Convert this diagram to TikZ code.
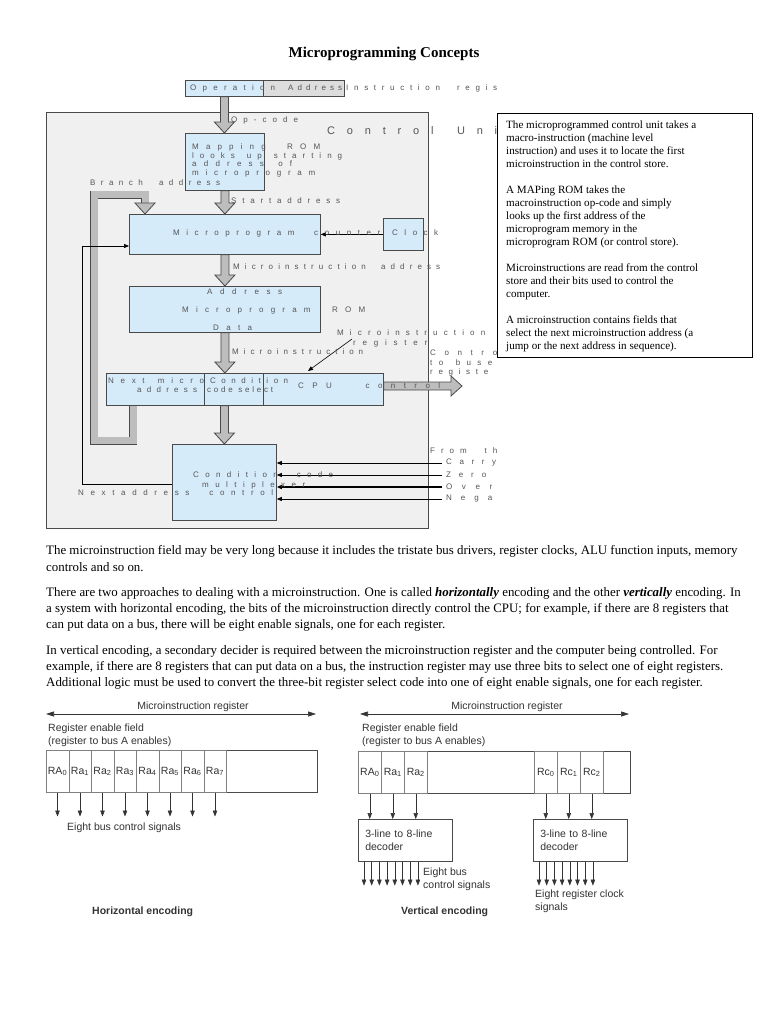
\documentclass[tikz,border=0pt]{standalone}
\usepackage{fontspec}
\setmainfont{Liberation Serif}
\setsansfont{Liberation Sans}
\usetikzlibrary{arrows.meta, positioning, calc}

\definecolor{blockblue}{HTML}{D6EBFA}
\definecolor{cugray}{HTML}{F0F0F0}
\definecolor{pipegray}{HTML}{BDBDBD}
\definecolor{addrgray}{HTML}{DDDDDD}
\definecolor{edgegray}{HTML}{4A4A4A}
\definecolor{labelgray}{HTML}{555555}
\definecolor{diagtext}{HTML}{333333}

\newcommand{\spr}[2]{\makebox[#1pt][s]{#2}}

% block arrows (outlined)
\newcommand{\fatdown}[2]{%
  \draw[fat] let \p1=(#1), \p2=(#2) in
    (\x1-4pt,\y1) -- (\x1-4pt,\y2+11pt) -- (\x1-10pt,\y2+11pt) -- (\x1,\y2)
    -- (\x1+10pt,\y2+11pt) -- (\x1+4pt,\y2+11pt) -- (\x1+4pt,\y1) -- cycle;}
\newcommand{\fatright}[2]{%
  \draw[fat] let \p1=(#1), \p2=(#2) in
    (\x1,\y1+4pt) -- (\x2-11pt,\y1+4pt) -- (\x2-11pt,\y1+10pt) -- (\x2,\y1)
    -- (\x2-11pt,\y1-10pt) -- (\x2-11pt,\y1-4pt) -- (\x1,\y1-4pt) -- cycle;}

\tikzset{
  fat/.style={draw=edgegray, fill=pipegray, line width=0.8pt},
  fatpipe/.style={draw=edgegray, line width=0.8pt, double=pipegray, double distance=7pt},
  block/.style={draw=edgegray, fill=blockblue, line width=0.8pt, inner sep=0, anchor=north west},
  lbl/.style={font=\sffamily\fontsize{8}{8}\selectfont, text=labelgray, inner sep=0, anchor=west},
  wire/.style={draw=black, line width=0.6pt, -{Triangle[width=4pt,length=5pt]}},
  body/.style={font=\fontsize{12.9}{16}\selectfont, inner sep=0, anchor=west},
  sans/.style={font=\sffamily\fontsize{10.5}{13}\selectfont, text=diagtext, inner sep=0},
  regbox/.style={draw=edgegray, line width=0.6pt, inner sep=0, anchor=north west},
  cell/.style={sans, draw=gray, line width=0.5pt, minimum width=22.5, minimum height=42, inner sep=0, anchor=north west},
  sig/.style={draw=diagtext, line width=0.5pt, -{Triangle[width=4.5pt,length=6pt]}},
  dbl/.style={draw=diagtext, line width=0.6pt, {Triangle[width=5pt,length=8pt]}-{Triangle[width=5pt,length=8pt]}}
}

\begin{document}
\begin{tikzpicture}[x=1pt,y=-1pt]
\useasboundingbox (0,0) rectangle (768,1024);
\fill[white] (0,0) rectangle (768,1024);

\node[font=\bfseries\fontsize{15}{15}\selectfont] (title) at (384,54) {Microprogramming Concepts};

% control unit
\node[draw=edgegray, fill=cugray, line width=0.9pt, minimum width=382, minimum height=416, inner sep=0, anchor=north west] (cu) at (46,112) {};

% instruction register
\node[block, minimum width=78, minimum height=16] (opf) at (185,80) {};
\node[block, fill=addrgray, minimum width=81, minimum height=16] (adf) at (263,80) {};

% blocks
\node[block, minimum width=79, minimum height=57] (map) at (185,133) {};
\node[block, minimum width=191, minimum height=40] (pc) at (129,214) {};
\node[block, minimum width=40, minimum height=32] (clk) at (383,218) {};
\node[block, minimum width=191, minimum height=46] (rom) at (129,286) {};
\node[block, minimum width=98, minimum height=32] (mir1) at (106,373) {};
\node[block, minimum width=59, minimum height=32] (mir2) at (204,373) {};
\node[block, minimum width=120, minimum height=32] (mir3) at (263,373) {};
\node[block, minimum width=104, minimum height=76] (mux) at (172,444) {};

% branch address loop
\draw[fatpipe] ([xshift=27]mir1.south west) -- ++(0,35) -| (94,195) -| (145,204);

% block arrows
\fatdown{opf.south}{map.north}
\fatdown{map.south}{pc.north}
\fatdown{pc.south}{rom.north}
\fatdown{rom.south}{rom.south |- mir2.north}
\fatdown{mir2.south -| mux.north}{mux.north}
\coordinate (ctrlout) at (462,386);
\fatright{mir3.east |- ctrlout}{ctrlout}
\coordinate (brtip) at (145,214);
\draw[fat] (brtip) -- ++(-10,-11) -- ++(20,0) -- cycle;

% thin wires
\draw[wire] (clk.west) -- (pc.east);
\coordinate (fbk) at (82,484);
\coordinate (fbtop) at (82,246);
\draw[wire] (mux.west |- fbk) -- (fbk) -- (fbtop) -- (pc.west |- fbtop);
\coordinate (mirlbl) at (352,339);
\coordinate (mirpt) at (308,371);
\draw[wire] (mirlbl) -- (mirpt);
\coordinate (carry) at (442,463);
\coordinate (zero) at (442,475);
\coordinate (over) at (442,487);
\coordinate (nega) at (442,499);
\draw[wire] (carry) -- (carry -| mux.east);
\draw[wire] (zero) -- (zero -| mux.east);
\draw[wire, line width=1.3pt] (over) -- (over -| mux.east);
\draw[wire] (nega) -- (nega -| mux.east);

% labels
\node[lbl] (opl) at (190,88) {\spr{85}{O p e r a t i o n}};
\node[lbl] (adl) at (288,88) {\spr{54}{A d d r e s s}};
\node[lbl] (irl) at (346,88) {\spr{151}{I n s t r u c t i o n \ \ r e g i s}};
\node[lbl] (opc) at (231,120) {\spr{67}{O p - c o d e}};
\node[lbl, font=\sffamily\fontsize{11}{11}\selectfont] (cul) at (327,131) {\spr{170}{C o n t r o l \ U n i}};
\node[lbl] (map1) at (192,147) {\spr{128}{M a p p i n g \ \ R O M}};
\node[lbl] (map2) at (192,156) {\spr{150}{l o o k s \ u p \ s t a r t i n g}};
\node[lbl] (map3) at (192,164) {\spr{100}{a d d r e s s \ o f}};
\node[lbl] (map4) at (192,173) {\spr{123}{m i c r o p r o g r a m}};
\node[lbl] (brl) at (90,183) {\spr{130}{B r a n c h \ \ a d d r e s s}};
\node[lbl] (stl) at (231,201) {\spr{109}{S t a r t a d d r e s s}};
\node[lbl] (pcl) at (173,233) {\spr{207}{M i c r o p r o g r a m \ \ c o u n t e r}};
\node[lbl] (clkl) at (392,233) {\spr{46}{C l o c k}};
\node[lbl] (mal) at (233,267) {\spr{207}{M i c r o i n s t r u c t i o n \ \ a d d r e s s}};
\node[lbl] (rom1) at (207,292) {\spr{75}{A d d r e s s}};
\node[lbl] (rom2) at (182,310) {\spr{183}{M i c r o p r o g r a m \ \ R O M}};
\node[lbl] (rom3) at (213,328) {\spr{39}{D a t a}};
\node[lbl] (mir1l) at (337,333) {\spr{148}{M i c r o i n s t r u c t i o n}};
\node[lbl] (mir2l) at (353,343) {\spr{74}{r e g i s t e r}};
\node[lbl] (mil) at (232,352) {\spr{131}{M i c r o i n s t r u c t i o n}};
\node[lbl] (ct1) at (430,353) {\spr{67}{C o n t r o}};
\node[lbl] (ct2) at (430,363) {\spr{62}{t o \ b u s e}};
\node[lbl] (ct3) at (430,372) {\spr{58}{r e g i s t e}};
\node[lbl] (nx1) at (108,381) {\spr{96}{N e x t \ m i c r o}};
\node[lbl] (nx2) at (137,390) {\spr{60}{a d d r e s s}};
\node[lbl] (cc1) at (210,381) {\spr{78}{C o n d i t i o n}};
\node[lbl] (cc2) at (207,390) {\spr{66}{c o d e \ s e l e c t}};
\node[lbl] (cpu) at (298,386) {\spr{142}{C P U \ \ \ c o n t r o l}};
\node[lbl] (mx1) at (193,475) {\spr{140}{C o n d i t i o n \ \ c o d e}};
\node[lbl] (mx2) at (202,485) {\spr{103}{m u l t i p l e x e r}};
\node[lbl] (mx3) at (78,493) {\spr{195}{N e x t a d d r e s s \ \ c o n t r o l}};
\node[lbl] (frl) at (430,451) {\spr{67}{F r o m \ \ t h}};
\node[lbl] (cyl) at (446,463) {\spr{50}{C a r r y}};
\node[lbl] (zrl) at (446,475) {\spr{40}{Z e r o}};
\node[lbl] (ovl) at (446,487) {\spr{46}{O v e r}};
\node[lbl] (ngl) at (446,499) {\spr{46}{N e g a}};

% note box
\node[draw=black, line width=0.8pt, fill=white, minimum width=255, minimum height=244, inner sep=0, anchor=north west] (note) at (497,113) {};
\node[font=\fontsize{11.1}{13}\selectfont, align=left, inner sep=0, anchor=north west] (notetxt) at (506,121) {%
The microprogrammed control unit takes a\\
macro-instruction (machine level\\
instruction) and uses it to locate the first\\
microinstruction in the control store.\\[13pt]
A MAPing ROM takes the\\
macroinstruction op-code and simply\\
looks up the first address of the\\
microprogram memory in the\\
microprogram ROM (or control store).\\[13pt]
Microinstructions are read from the control\\
store and their bits used to control the\\
computer.\\[13pt]
A microinstruction contains fields that\\
select the next microinstruction address (a\\
jump or the next address in sequence).};

% body text
\node[body] (p1) at (46,551) {The microinstruction field may be very long because it includes the tristate bus drivers, register clocks, ALU function inputs, memory};
\node[body] (p2) at (46,567) {controls and so on.};
\node[body] (p3) at (46,593) {There are two approaches to dealing with a microinstruction. One is called \textbf{\textit{horizontally}} encoding and the other \textbf{\textit{vertically}} encoding. In};
\node[body] (p4) at (46,609) {a system with horizontal encoding, the bits of the microinstruction directly control the CPU; for example, if there are 8 registers that};
\node[body] (p5) at (46,625) {can put data on a bus, there will be eight enable signals, one for each register.};
\node[body] (p6) at (46,651) {In vertical encoding, a secondary decider is required between the microinstruction register and the computer being controlled. For};
\node[body] (p7) at (46,667) {example, if there are 8 registers that can put data on a bus, the instruction register may use three bits to select one of eight registers.};
\node[body] (p8) at (46,683) {Additional logic must be used to convert the three-bit register select code into one of eight enable signals, one for each register.};

% horizontal encoding
\coordinate (hl) at (46,714);
\coordinate (hr) at (316,714);
\draw[dbl] (hl) -- (hr);
\node[sans] (hlbl) at (193,707) {Microinstruction register};
\node[sans, anchor=west, align=left] (hfield) at (48,735) {Register enable field\\(register to bus A enables)};
\node[regbox, minimum width=271, minimum height=42] (hreg) at (46,750) {};
\foreach \i in {0,...,7} {
  \node[cell] (h\i) at (46+22.5*\i,750) {\ifnum\i=0 RA\else Ra\fi\textsubscript{\i}};
  \coordinate (hs\i) at ([yshift=-24]h\i.south);
  \draw[sig] (h\i.south) -- (hs\i);
}
\node[sans, anchor=west] (hsig) at (67,828) {Eight bus control signals};
\node[sans, anchor=west, font=\sffamily\bfseries\fontsize{10.5}{13}\selectfont] (hcap) at (92,912) {Horizontal encoding};

% vertical encoding
\coordinate (vl) at (360,714);
\coordinate (vr) at (629,714);
\draw[dbl] (vl) -- (vr);
\node[sans] (vlbl) at (507,707) {Microinstruction register};
\node[sans, anchor=west, align=left] (vfield) at (362,735) {Register enable field\\(register to bus A enables)};
\node[regbox, minimum width=272, minimum height=42] (vreg) at (358,751) {};
\node[regbox, minimum width=94, minimum height=42, align=left, text width=80, sans] (dec1) at (358,819) {3-line to 8-line\\decoder};
\node[regbox, minimum width=94, minimum height=42, align=left, text width=80, sans] (dec2) at (533,819) {3-line to 8-line\\decoder};
\foreach \i in {0,1,2} {
  \node[cell, minimum width=23] (va\i) at (358+23*\i,751) {\ifnum\i=0 RA\else Ra\fi\textsubscript{\i}};
  \node[cell, minimum width=23] (vc\i) at (534+23*\i,751) {Rc\textsubscript{\i}};
  \draw[sig] (va\i.south) -- (va\i.south |- dec1.north);
  \draw[sig] (vc\i.south) -- (vc\i.south |- dec2.north);
}
\foreach \i in {0,...,7} {
  \draw[sig] ([xshift=6+7.7*\i]dec1.south west) -- ++(0,24);
  \draw[sig] ([xshift=6+7.7*\i]dec2.south west) -- ++(0,24);
}
\node[sans, anchor=west, align=left] (vsig1) at (423,879) {Eight bus\\control signals};
\node[sans, anchor=west, align=left] (vsig2) at (535,901) {Eight register clock\\signals};
\node[sans, anchor=west, font=\sffamily\bfseries\fontsize{10.5}{13}\selectfont] (vcap) at (401,912) {Vertical encoding};
\end{tikzpicture}
\end{document}
